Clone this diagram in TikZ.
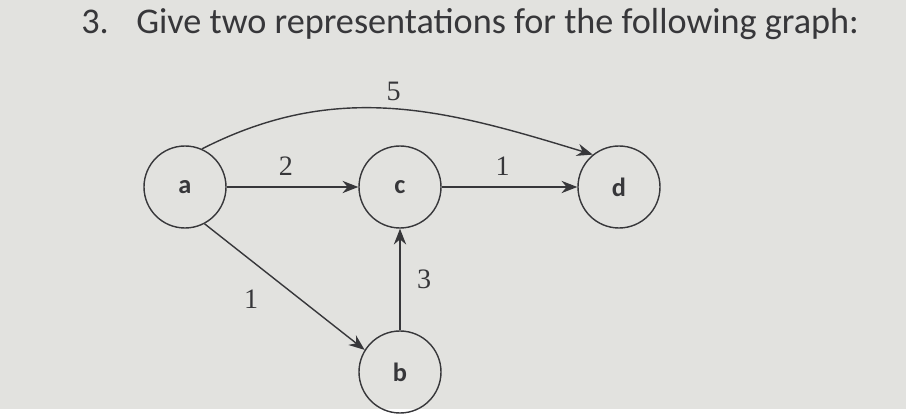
\documentclass[tikz,border=0pt]{standalone}
\usepackage{fontspec}
\newfontfamily\calibri{Carlito}
\newfontfamily\cambria{Liberation Serif}
\usetikzlibrary{arrows.meta}
\definecolor{paper}{RGB}{226,226,223}
\definecolor{ink}{RGB}{55,55,58}
\tikzset{>={Stealth[length=9pt,width=7pt]}}
\tikzset{
  vertex/.style={circle, draw=ink, line width=0.8pt, minimum size=1.64cm, inner sep=0pt,
    font=\calibri\bfseries\fontsize{15}{15}\selectfont, text=ink},
  edge/.style={->, draw=ink, line width=0.8pt},
  wt/.style={font=\cambria\fontsize{16}{16}\selectfont, text=ink}
}

\begin{document}
\begin{tikzpicture}
\fill[paper] (0,0) rectangle (18.12,8.18);
\node[anchor=west, inner sep=0pt, font=\calibri\fontsize{20.6}{20.6}\selectfont, text=ink] (title) at (1.62,7.70)
  {3.\hspace{0.55cm}Give two representations for the following graph:};
\node[vertex] (a) at (3.70,4.44) {a};
\node[vertex] (c) at (8.00,4.44) {c};
\node[vertex] (d) at (12.38,4.44) {d};
\node[vertex] (b) at (8.00,0.74) {b};
% edges
\draw[edge] (a.66) to[out=27, in=163] node[wt, above=1pt] {5} (d.129);
\draw[edge] (a) -- node[wt, above=3pt, pos=0.45] {2} (c);
\draw[edge] (c) -- node[wt, above=3pt, pos=0.45] {1} (d);
\draw[edge] (a.-62) -- node[wt, below left=4pt, pos=0.42] {1} (b.148);
\draw[edge] (b) -- node[wt, right=6pt] {3} (c);
\end{tikzpicture}
\end{document}
